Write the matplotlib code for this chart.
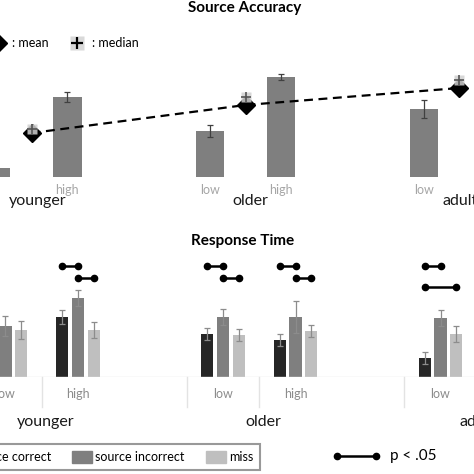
import matplotlib
matplotlib.use('Agg')
import matplotlib.pyplot as plt
from matplotlib.lines import Line2D
from matplotlib.patches import Patch
import numpy as np

plt.rcParams['font.family'] = ['Lato', 'DejaVu Sans']

groups = ['younger', 'older', 'adults']
levels = ['low', 'high', 'low', 'high', 'low', 'high']
cat_pos = [0, 1, 3, 4, 6, 7]          # Excel style: blank slot between groups
grp_mid = [0.5, 3.5, 6.5]

# --- source accuracy (proportion correct)
acc = [0.045, 0.40, 0.23, 0.50, 0.34, 0.55]
acc_err = [0.02, 0.025, 0.03, 0.017, 0.047, 0.03]
acc_mean = [0.22, 0.36, 0.445]
acc_median = [0.24, 0.40, 0.485]

# --- response time (ms)
conds = ['source correct', 'source incorrect', 'miss']
rt_correct = [1400, 1500, 1075, 925, 475, 900]
rt_incorrect = [1275, 1975, 1500, 1500, 1475, 1500]
rt_miss = [1175, 1175, 1050, 1150, 1075, 1100]
err_correct = [180, 175, 140, 150, 160, 160]
err_incorrect = [250, 212, 190, 390, 200, 200]
err_miss = [225, 190, 140, 150, 190, 190]

# significant pairs: category slot, bar a, bar b, height
sig_pos = [1, 1, 3, 3, 4, 4, 6, 6]
sig_a = [0, 1, 0, 1, 0, 1, 0, 0]
sig_b = [1, 2, 1, 2, 1, 2, 1, 2]
sig_y = [2775, 2475, 2775, 2475, 2775, 2475, 2775, 2250]

bar_cols = ['#262626', '#7f7f7f', '#bfbfbf']
W = H = 474

fig = plt.figure(figsize=(4.74, 4.74), dpi=100)

# ---------------- top: Source Accuracy ----------------
ax1 = fig.add_axes([0, 1 - 177 / H, 1, 157 / H])
ax1.bar(cat_pos, acc, width=0.4, color='#7f7f7f')
ax1.errorbar(cat_pos, acc, yerr=acc_err, fmt='none', ecolor='#404040',
             elinewidth=0.9, capsize=2, capthick=0.9)
ax1.plot(grp_mid, acc_mean, color='black', lw=1.6, dashes=(4, 2.5),
         marker='D', ms=9, mfc='black', mec='black', zorder=4)
ax1.plot(grp_mid, acc_median, ls='none', marker='s', ms=7,
         mfc='#d0d0d0', mec='none', alpha=0.85, zorder=5)
ax1.plot(grp_mid, acc_median, ls='none', marker='+', ms=7,
         mew=1.2, color='#555555', zorder=6)
ax1.set_xticks(cat_pos)
ax1.set_xticklabels(levels, fontsize=9, color='#a6a6a6')
ax1.set_xlim(4 / 71.3, 478 / 71.3)
ax1.set_ylim(0, 0.785)
ax1.tick_params(axis='x', length=0, pad=5)
ax1.set_yticks([])
for s in ax1.spines.values():
    s.set_visible(False)
for g, x in zip(groups, [0.58, 3.56, 6.56]):
    ax1.text(x, -0.155, g, transform=ax1.get_xaxis_transform(), ha='center',
             va='center', fontsize=11.5, color='#1a1a1a')
fig.text(245 / W, 1 - 8 / H, 'Source Accuracy', ha='center', va='center',
         fontsize=11, fontweight='bold')

# legend keys for mean / median
fig.add_artist(Line2D([-1 / W], [1 - 43 / H], marker='D', ms=8, color='black',
                      transform=fig.transFigure))
fig.text(12 / W, 1 - 43 / H, ': mean', va='center', fontsize=9)
fig.add_artist(Line2D([77 / W], [1 - 43 / H], marker='s', ms=10, mfc='#d9d9d9',
                      mec='none', transform=fig.transFigure))
fig.add_artist(Line2D([77 / W], [1 - 43 / H], marker='+', ms=9, mew=1.6,
                      color='black', transform=fig.transFigure))
fig.text(92 / W, 1 - 43 / H, ': median', va='center', fontsize=9)

# ---------------- bottom: Response Time ----------------
ax2 = fig.add_axes([0, 1 - 377 / H, 1, 127 / H])
off = 0.22
series = [(rt_correct, err_correct), (rt_incorrect, err_incorrect), (rt_miss, err_miss)]
for i, (vals, errs) in enumerate(series):
    x = np.array(cat_pos) + (i - 1) * off
    ax2.bar(x, vals, width=0.166, color=bar_cols[i], label=conds[i])
    ax2.errorbar(x, vals, yerr=errs, fmt='none', ecolor='#8c8c8c',
                 elinewidth=0.9, capsize=2, capthick=0.9)

for p, a, b_, y in zip(sig_pos, sig_a, sig_b, sig_y):
    ax2.plot([p + (a - 1) * off, p + (b_ - 1) * off], [y, y], color='black',
             lw=1.8, marker='o', ms=4.5, clip_on=False)

ax2.set_xticks(cat_pos)
ax2.set_xticklabels(levels, fontsize=9, color='#8c8c8c')
ax2.set_xlim(-5.5 / 72.5, 468.5 / 72.5)
ax2.set_ylim(0, 3175)
ax2.tick_params(axis='x', length=0, pad=8)
ax2.set_yticks([])
for s in ax2.spines.values():
    s.set_visible(False)
ax2.axhline(0, color='#e3e3e3', lw=1)
trans = ax2.get_xaxis_transform()
for xs in [0.5, 2.5, 3.5, 5.5]:
    ax2.plot([xs, xs], [0, -30 / 127], color='#e3e3e3', lw=1,
             transform=trans, clip_on=False)
for g, x in zip(groups, [0.56, 3.55, 6.55]):
    ax2.text(x, -45 / 127, g, transform=trans, ha='center', va='center',
             fontsize=11.5, color='#1a1a1a')
fig.text(243 / W, 1 - 241 / H, 'Response Time', ha='center', va='center',
         fontsize=11, fontweight='bold')

leg = fig.legend(handles=[Patch(color=c) for c in bar_cols], labels=conds,
                 loc='center right', bbox_to_anchor=(260 / W, 1 - 457 / H),
                 ncol=3, fontsize=9, frameon=True, fancybox=False,
                 handlelength=1.6, handleheight=1.1, handletextpad=0.25,
                 columnspacing=1.7, borderpad=0.55, borderaxespad=0)
leg.get_frame().set_edgecolor('#808080')
leg.get_frame().set_linewidth(1.5)

fig.add_artist(Line2D([337 / W, 376 / W], [1 - 456 / H] * 2, color='black', lw=1.8,
                      marker='o', ms=4.5, transform=fig.transFigure))
fig.text(390 / W, 1 - 456 / H, 'p < .05', va='center', fontsize=11)

fig.savefig('out.png', dpi=100)
